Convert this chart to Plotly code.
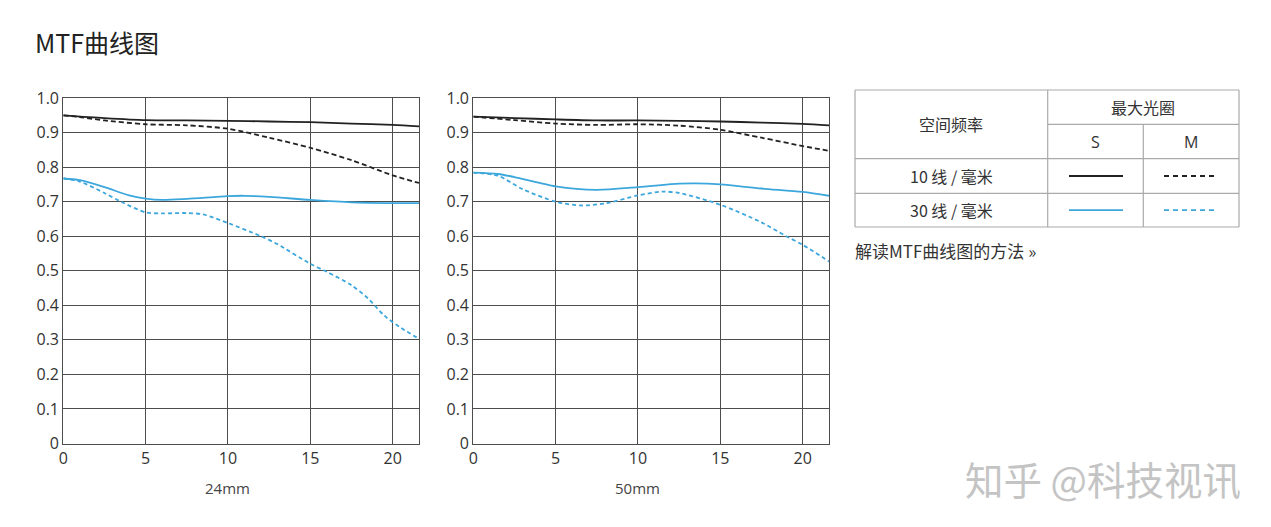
import plotly.graph_objects as go

# ---------------- data ----------------
x_24_10S = [0, 2.5, 5, 7.5, 10, 12.5, 15, 17.5, 20, 21.6]
y_24_10S = [0.950, 0.942, 0.936, 0.935, 0.934, 0.932, 0.930, 0.926, 0.922, 0.918]
x_24_10M = [0, 1, 2.5, 5, 7.5, 10, 12.5, 15, 17.5, 20, 21.6]
y_24_10M = [0.950, 0.945, 0.935, 0.924, 0.921, 0.911, 0.885, 0.856, 0.820, 0.776, 0.754]
x_24_30S = [0, 1, 2.5, 4, 5, 6, 7.5, 10, 11, 12.5, 15, 17.5, 20, 21.6]
y_24_30S = [0.767, 0.762, 0.742, 0.718, 0.709, 0.705, 0.708, 0.716, 0.717, 0.714, 0.705, 0.698, 0.696, 0.696]
x_24_30M = [0, 1, 2.5, 3.5, 5, 6, 7.5, 8.5, 10, 12, 13, 15, 16, 17.5, 18.5, 19.5, 20.5, 21.6]
y_24_30M = [0.767, 0.758, 0.725, 0.700, 0.669, 0.666, 0.667, 0.663, 0.638, 0.600, 0.577, 0.520, 0.497, 0.458, 0.420, 0.370, 0.335, 0.303]

x_50_10S = [0, 2.5, 5, 7.5, 10, 12.5, 15, 17.5, 20, 21.6]
y_50_10S = [0.946, 0.942, 0.938, 0.935, 0.935, 0.934, 0.932, 0.929, 0.925, 0.921]
x_50_10M = [0, 2.5, 5, 7.5, 10, 12.5, 15, 17.5, 20, 21.6]
y_50_10M = [0.946, 0.936, 0.926, 0.922, 0.924, 0.920, 0.908, 0.885, 0.861, 0.847]
x_50_30S = [0, 1.5, 2.5, 5, 7.5, 10, 12.5, 13.5, 15, 17.5, 20, 21.6]
y_50_30S = [0.784, 0.780, 0.771, 0.744, 0.734, 0.742, 0.752, 0.753, 0.750, 0.738, 0.728, 0.717]
x_50_30M = [0, 1.5, 3, 5, 6.5, 8, 10, 11.5, 12.5, 15, 17.5, 19, 20, 21.6]
y_50_30M = [0.784, 0.775, 0.736, 0.700, 0.689, 0.695, 0.718, 0.729, 0.725, 0.691, 0.640, 0.600, 0.575, 0.527]

y_ticks = [0, 0.1, 0.2, 0.3, 0.4, 0.5, 0.6, 0.7, 0.8, 0.9, 1.0]
y_ticktext = ["0", "0.1", "0.2", "0.3", "0.4", "0.5", "0.6", "0.7", "0.8", "0.9", "1.0"]
x_ticks = [0, 5, 10, 15, 20]
chart_titles = ["24mm", "50mm"]
table_header = ["空间频率", "最大光圈", "S", "M"]
table_rows = ["10 线 / 毫米", "30 线 / 毫米"]

BLACK = "#222222"
BLUE = "#3ca7dc"
GRID = "#4d4d4d"
FONT = "Open Sans, Noto Sans CJK SC, sans-serif"
CJK = "Noto Sans CJK SC, sans-serif"

W, H = 1271, 527
def px(x):
    return x / W
def py(y):
    return 1 - y / H

fig = go.Figure()

series = [
    ("x", "y", x_24_10S, y_24_10S, BLACK, "solid"),
    ("x", "y", x_24_10M, y_24_10M, BLACK, "5px,3px"),
    ("x", "y", x_24_30S, y_24_30S, BLUE, "solid"),
    ("x", "y", x_24_30M, y_24_30M, BLUE, "4px,3px"),
    ("x2", "y2", x_50_10S, y_50_10S, BLACK, "solid"),
    ("x2", "y2", x_50_10M, y_50_10M, BLACK, "5px,3px"),
    ("x2", "y2", x_50_30S, y_50_30S, BLUE, "solid"),
    ("x2", "y2", x_50_30M, y_50_30M, BLUE, "4px,3px"),
]
for xa, ya, xs, ys, col, dash in series:
    fig.add_trace(go.Scatter(x=xs, y=ys, xaxis=xa, yaxis=ya, mode="lines",
                             line=dict(color=col, width=1.8, dash=dash, shape="spline", smoothing=0.8),
                             showlegend=False, hoverinfo="skip"))

ydom = [py(443.5), py(98)]
axis_common = dict(showline=True, mirror=True, linecolor=GRID, linewidth=1.2, automargin=False,
                   showgrid=True, gridcolor=GRID, gridwidth=1.2, zeroline=False,
                   ticks="", tickfont=dict(family=FONT, size=16, color="#333333"))
fig.update_layout(
    width=W, height=H, margin=dict(l=0, r=0, t=0, b=0, pad=0), autosize=False,
    paper_bgcolor="white", plot_bgcolor="white",
    xaxis=dict(domain=[px(63.3), px(419)], range=[0, 21.6], tickvals=x_ticks, anchor="y", **axis_common),
    yaxis=dict(domain=ydom, range=[0, 1.0], tickvals=y_ticks, ticktext=y_ticktext, anchor="x", **axis_common),
    xaxis2=dict(domain=[px(473.3), px(829)], range=[0, 21.6], tickvals=x_ticks, anchor="y2", **axis_common),
    yaxis2=dict(domain=ydom, range=[0, 1.0], tickvals=y_ticks, ticktext=y_ticktext, anchor="x2", **axis_common),
)

annotations = []
shapes = []
# chart titles below axes
for xref, t in zip(["x", "x2"], chart_titles):
    annotations.append(dict(x=10, y=py(488), xref=xref, yref="paper", text=t, showarrow=False,
                            font=dict(family=FONT, size=15, color="#444444"), xanchor="center", yanchor="middle"))
# main title
annotations.append(dict(x=px(33), y=py(42), xref="paper", yref="paper", text="MTF曲线图", showarrow=False,
                        font=dict(family=CJK, size=25, color="#222222"), xanchor="left", yanchor="middle"))

# table
TL, TR = 855, 1239
C1, C2 = 1047.7, 1143.3
R0, R1, R2, R3, R4 = 90, 124.3, 158.7, 193.3, 227
TC = "#aaaaaa"
def hline(x0, x1, y):
    shapes.append(dict(type="line", xref="paper", yref="paper", x0=px(x0), x1=px(x1), y0=py(y), y1=py(y),
                       line=dict(color=TC, width=1.2)))
def vline(x, y0, y1):
    shapes.append(dict(type="line", xref="paper", yref="paper", x0=px(x), x1=px(x), y0=py(y0), y1=py(y1),
                       line=dict(color=TC, width=1.2)))
hline(TL, TR, R0); hline(C1, TR, R1); hline(TL, TR, R2); hline(TL, TR, R3); hline(TL, TR, R4)
vline(TL, R0, R4); vline(TR, R0, R4); vline(C1, R0, R4); vline(C2, R1, R4)

def txt(x, y, s, size=16, color="#333333", fam=CJK, anchor="center"):
    annotations.append(dict(x=px(x), y=py(y), xref="paper", yref="paper", text=s, showarrow=False,
                            font=dict(family=fam, size=size, color=color), xanchor=anchor, yanchor="middle"))
txt((TL + C1) / 2, (R0 + R2) / 2, table_header[0])
txt((C1 + TR) / 2, (R0 + R1) / 2, table_header[1])
txt((C1 + C2) / 2, (R1 + R2) / 2, table_header[2], fam=FONT)
txt((C2 + TR) / 2, (R1 + R2) / 2, table_header[3], fam=FONT)
txt((TL + C1) / 2, (R2 + R3) / 2, table_rows[0])
txt((TL + C1) / 2, (R3 + R4) / 2, table_rows[1])

for yy, col in [((R2 + R3) / 2, BLACK), ((R3 + R4) / 2, BLUE)]:
    shapes.append(dict(type="line", xref="paper", yref="paper", x0=px(1069), x1=px(1123), y0=py(yy), y1=py(yy),
                       line=dict(color=col, width=1.8)))
    shapes.append(dict(type="line", xref="paper", yref="paper", x0=px(1164), x1=px(1216), y0=py(yy), y1=py(yy),
                       line=dict(color=col, width=1.8, dash="5px,4px")))

txt(853, 250, "解读MTF曲线图的方法 »", size=17, color="#333333", anchor="left")

# watermark
txt(963, 478, "知乎 @科技视讯", size=38.5, color="#c4c4c4", anchor="left")

fig.update_layout(annotations=annotations, shapes=shapes)
fig.write_html("out.html", post_script="document.body.style.margin='0';document.body.style.overflow='hidden';")
